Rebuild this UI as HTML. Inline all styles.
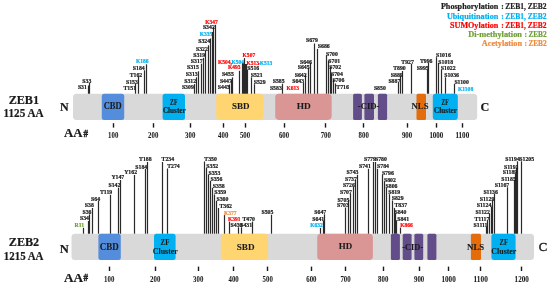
<!DOCTYPE html>
<html><head><meta charset="utf-8"><title>ZEB1 / ZEB2 post-translational modifications</title>
<style>
html,body{margin:0;padding:0;background:#fff;}
body{width:550px;height:285px;overflow:hidden;}
svg{display:block;}
</style></head>
<body>
<svg width="550" height="285" viewBox="0 0 550 285">
<rect width="550" height="285" fill="#ffffff"/>
<rect x="73.00" y="93.70" width="404.20" height="26.20" rx="3.5" fill="#d9d9d9"/>
<rect x="101.80" y="93.70" width="22.40" height="26.20" rx="2.5" fill="#538ddb"/>
<rect x="162.60" y="93.70" width="22.40" height="26.20" rx="2.5" fill="#00b0f0"/>
<rect x="216.20" y="93.70" width="47.20" height="26.20" rx="3.8" fill="#ffd571"/>
<rect x="275.20" y="93.70" width="56.50" height="26.20" rx="3.8" fill="#d99694"/>
<rect x="353.10" y="93.70" width="8.80" height="26.20" rx="1.5" fill="#624d8a"/>
<rect x="364.40" y="93.70" width="9.60" height="26.20" rx="1.5" fill="#624d8a"/>
<rect x="377.90" y="93.70" width="9.20" height="26.20" rx="1.5" fill="#624d8a"/>
<rect x="416.50" y="93.70" width="9.50" height="26.20" rx="1.5" fill="#e46c0a"/>
<rect x="432.80" y="93.70" width="25.00" height="26.20" rx="3" fill="#00b0f0"/>
<text x="103.70" y="108.96" font-size="9.4" fill="#1a1a1a" text-anchor="start" font-family="'Liberation Serif', 'DejaVu Serif', serif" font-weight="bold" textLength="17.90" lengthAdjust="spacingAndGlyphs" stroke="#1a1a1a" stroke-width="0.08">CBD</text>
<text x="170.10" y="104.85" font-size="7.4" fill="#1a1a1a" text-anchor="start" font-family="'Liberation Serif', 'DejaVu Serif', serif" font-weight="bold" textLength="7.30" lengthAdjust="spacingAndGlyphs" stroke="#1a1a1a" stroke-width="0.15">ZF</text>
<text x="162.90" y="113.01" font-size="7.5" fill="#1a1a1a" text-anchor="start" font-family="'Liberation Serif', 'DejaVu Serif', serif" font-weight="bold" textLength="22.80" lengthAdjust="spacingAndGlyphs" stroke="#1a1a1a" stroke-width="0.15">Cluster</text>
<text x="231.90" y="108.89" font-size="9.0" fill="#1a1a1a" text-anchor="start" font-family="'Liberation Serif', 'DejaVu Serif', serif" font-weight="bold" textLength="17.60" lengthAdjust="spacingAndGlyphs" stroke="#1a1a1a" stroke-width="0.08">SBD</text>
<text x="296.70" y="109.06" font-size="8.8" fill="#1a1a1a" text-anchor="start" font-family="'Liberation Serif', 'DejaVu Serif', serif" font-weight="bold" textLength="14.00" lengthAdjust="spacingAndGlyphs" stroke="#1a1a1a" stroke-width="0.08">HD</text>
<text x="357.80" y="109.13" font-size="8.6" fill="#1a1a1a" text-anchor="start" font-family="'Liberation Serif', 'DejaVu Serif', serif" font-weight="bold" textLength="21.70" lengthAdjust="spacingAndGlyphs" stroke="#1a1a1a" stroke-width="0.08">-CID-</text>
<text x="411.60" y="108.93" font-size="8.6" fill="#1a1a1a" text-anchor="start" font-family="'Liberation Serif', 'DejaVu Serif', serif" font-weight="bold" textLength="16.90" lengthAdjust="spacingAndGlyphs" stroke="#1a1a1a" stroke-width="0.08">NLS</text>
<text x="441.60" y="104.71" font-size="7.5" fill="#1a1a1a" text-anchor="start" font-family="'Liberation Serif', 'DejaVu Serif', serif" font-weight="bold" textLength="7.00" lengthAdjust="spacingAndGlyphs" stroke="#1a1a1a" stroke-width="0.15">ZF</text>
<text x="434.10" y="113.01" font-size="7.5" fill="#1a1a1a" text-anchor="start" font-family="'Liberation Serif', 'DejaVu Serif', serif" font-weight="bold" textLength="22.90" lengthAdjust="spacingAndGlyphs" stroke="#1a1a1a" stroke-width="0.15">Cluster</text>
<text x="60.00" y="110.99" font-size="12.2" fill="#1a1a1a" text-anchor="start" font-family="'Liberation Serif', 'DejaVu Serif', serif" font-weight="bold" textLength="8.70" lengthAdjust="spacingAndGlyphs" stroke="#1a1a1a" stroke-width="0.2">N</text>
<text x="480.50" y="111.11" font-size="13.0" fill="#1a1a1a" text-anchor="start" font-family="'Liberation Serif', 'DejaVu Serif', serif" font-weight="bold" textLength="8.80" lengthAdjust="spacingAndGlyphs" stroke="#1a1a1a" stroke-width="0.2">C</text>
<text x="8.70" y="104.22" font-size="13.0" fill="#1a1a1a" text-anchor="start" font-family="'Liberation Serif', 'DejaVu Serif', serif" font-weight="bold" textLength="30.30" lengthAdjust="spacingAndGlyphs" stroke="#1a1a1a" stroke-width="0.2">ZEB1</text>
<text x="3.50" y="116.69" font-size="12.5" fill="#1a1a1a" text-anchor="start" font-family="'Liberation Serif', 'DejaVu Serif', serif" font-weight="bold" textLength="40.10" lengthAdjust="spacingAndGlyphs" stroke="#1a1a1a" stroke-width="0.2">1125 AA</text>
<text x="64.10" y="136.65" font-size="12.6" fill="#1a1a1a" text-anchor="start" font-family="'Liberation Serif', 'DejaVu Serif', serif" font-weight="bold" textLength="18.50" lengthAdjust="spacingAndGlyphs" stroke="#1a1a1a" stroke-width="0.2">AA</text>
<text x="83.50" y="136.61" font-size="11.0" fill="#1a1a1a" text-anchor="start" font-family="'Liberation Serif', 'DejaVu Serif', serif" font-weight="bold" textLength="4.50" lengthAdjust="spacingAndGlyphs" stroke="#1a1a1a" stroke-width="0.5">#</text>
<rect x="112.80" y="123.20" width="1.40" height="4.40" rx="0" fill="#1a1a1a"/>
<text x="113.20" y="138.31" font-size="7.5" fill="#1a1a1a" text-anchor="middle" font-family="'Liberation Serif', 'DejaVu Serif', serif" font-weight="bold" textLength="10.20" lengthAdjust="spacingAndGlyphs" stroke="#1a1a1a" stroke-width="0.05">100</text>
<rect x="152.80" y="123.20" width="1.40" height="4.40" rx="0" fill="#1a1a1a"/>
<text x="153.20" y="138.31" font-size="7.5" fill="#1a1a1a" text-anchor="middle" font-family="'Liberation Serif', 'DejaVu Serif', serif" font-weight="bold" textLength="10.20" lengthAdjust="spacingAndGlyphs" stroke="#1a1a1a" stroke-width="0.05">200</text>
<rect x="189.80" y="123.20" width="1.40" height="4.40" rx="0" fill="#1a1a1a"/>
<text x="190.20" y="138.31" font-size="7.5" fill="#1a1a1a" text-anchor="middle" font-family="'Liberation Serif', 'DejaVu Serif', serif" font-weight="bold" textLength="10.20" lengthAdjust="spacingAndGlyphs" stroke="#1a1a1a" stroke-width="0.05">300</text>
<rect x="222.80" y="123.20" width="1.40" height="4.40" rx="0" fill="#1a1a1a"/>
<text x="223.20" y="138.31" font-size="7.5" fill="#1a1a1a" text-anchor="middle" font-family="'Liberation Serif', 'DejaVu Serif', serif" font-weight="bold" textLength="10.20" lengthAdjust="spacingAndGlyphs" stroke="#1a1a1a" stroke-width="0.05">400</text>
<rect x="244.80" y="123.20" width="1.40" height="4.40" rx="0" fill="#1a1a1a"/>
<text x="245.00" y="138.31" font-size="7.5" fill="#1a1a1a" text-anchor="middle" font-family="'Liberation Serif', 'DejaVu Serif', serif" font-weight="bold" textLength="10.20" lengthAdjust="spacingAndGlyphs" stroke="#1a1a1a" stroke-width="0.05">500</text>
<rect x="283.80" y="123.20" width="1.40" height="4.40" rx="0" fill="#1a1a1a"/>
<text x="284.00" y="138.31" font-size="7.5" fill="#1a1a1a" text-anchor="middle" font-family="'Liberation Serif', 'DejaVu Serif', serif" font-weight="bold" textLength="10.20" lengthAdjust="spacingAndGlyphs" stroke="#1a1a1a" stroke-width="0.05">600</text>
<rect x="324.80" y="123.20" width="1.40" height="4.40" rx="0" fill="#1a1a1a"/>
<text x="325.80" y="138.31" font-size="7.5" fill="#1a1a1a" text-anchor="middle" font-family="'Liberation Serif', 'DejaVu Serif', serif" font-weight="bold" textLength="10.20" lengthAdjust="spacingAndGlyphs" stroke="#1a1a1a" stroke-width="0.05">700</text>
<rect x="362.80" y="123.20" width="1.40" height="4.40" rx="0" fill="#1a1a1a"/>
<text x="363.70" y="138.31" font-size="7.5" fill="#1a1a1a" text-anchor="middle" font-family="'Liberation Serif', 'DejaVu Serif', serif" font-weight="bold" textLength="10.20" lengthAdjust="spacingAndGlyphs" stroke="#1a1a1a" stroke-width="0.05">800</text>
<rect x="406.80" y="123.20" width="1.40" height="4.40" rx="0" fill="#1a1a1a"/>
<text x="407.00" y="138.31" font-size="7.5" fill="#1a1a1a" text-anchor="middle" font-family="'Liberation Serif', 'DejaVu Serif', serif" font-weight="bold" textLength="10.20" lengthAdjust="spacingAndGlyphs" stroke="#1a1a1a" stroke-width="0.05">900</text>
<rect x="435.80" y="123.20" width="1.40" height="4.40" rx="0" fill="#1a1a1a"/>
<text x="436.30" y="138.31" font-size="7.5" fill="#1a1a1a" text-anchor="middle" font-family="'Liberation Serif', 'DejaVu Serif', serif" font-weight="bold" textLength="13.80" lengthAdjust="spacingAndGlyphs" stroke="#1a1a1a" stroke-width="0.05">1000</text>
<rect x="461.80" y="123.20" width="1.40" height="4.40" rx="0" fill="#1a1a1a"/>
<text x="462.30" y="138.31" font-size="7.5" fill="#1a1a1a" text-anchor="middle" font-family="'Liberation Serif', 'DejaVu Serif', serif" font-weight="bold" textLength="13.80" lengthAdjust="spacingAndGlyphs" stroke="#1a1a1a" stroke-width="0.05">1100</text>
<rect x="71.50" y="233.70" width="462.50" height="26.40" rx="3.5" fill="#d9d9d9"/>
<rect x="98.40" y="233.70" width="22.40" height="26.40" rx="2.5" fill="#538ddb"/>
<rect x="154.00" y="233.70" width="21.60" height="26.40" rx="2.5" fill="#00b0f0"/>
<rect x="220.80" y="233.70" width="47.30" height="26.40" rx="3.8" fill="#ffd571"/>
<rect x="317.20" y="233.70" width="55.70" height="26.40" rx="3.8" fill="#d99694"/>
<rect x="390.90" y="233.70" width="9.00" height="26.40" rx="1.5" fill="#624d8a"/>
<rect x="402.70" y="233.70" width="8.90" height="26.40" rx="1.5" fill="#624d8a"/>
<rect x="414.40" y="233.70" width="8.80" height="26.40" rx="1.5" fill="#624d8a"/>
<rect x="427.40" y="233.70" width="9.00" height="26.40" rx="1.5" fill="#624d8a"/>
<rect x="470.90" y="233.70" width="10.10" height="26.40" rx="1.5" fill="#e46c0a"/>
<rect x="491.40" y="233.70" width="24.20" height="26.40" rx="3" fill="#00b0f0"/>
<text x="99.80" y="250.06" font-size="9.4" fill="#1a1a1a" text-anchor="start" font-family="'Liberation Serif', 'DejaVu Serif', serif" font-weight="bold" textLength="18.90" lengthAdjust="spacingAndGlyphs" stroke="#1a1a1a" stroke-width="0.08">CBD</text>
<text x="160.60" y="245.21" font-size="7.8" fill="#1a1a1a" text-anchor="start" font-family="'Liberation Serif', 'DejaVu Serif', serif" font-weight="bold" textLength="8.90" lengthAdjust="spacingAndGlyphs" stroke="#1a1a1a" stroke-width="0.08">ZF</text>
<text x="152.70" y="254.44" font-size="8.3" fill="#1a1a1a" text-anchor="start" font-family="'Liberation Serif', 'DejaVu Serif', serif" font-weight="bold" textLength="25.20" lengthAdjust="spacingAndGlyphs" stroke="#1a1a1a" stroke-width="0.08">Cluster</text>
<text x="236.70" y="249.53" font-size="9.2" fill="#1a1a1a" text-anchor="start" font-family="'Liberation Serif', 'DejaVu Serif', serif" font-weight="bold" textLength="17.80" lengthAdjust="spacingAndGlyphs" stroke="#1a1a1a" stroke-width="0.08">SBD</text>
<text x="338.80" y="249.40" font-size="9.0" fill="#1a1a1a" text-anchor="start" font-family="'Liberation Serif', 'DejaVu Serif', serif" font-weight="bold" textLength="13.40" lengthAdjust="spacingAndGlyphs" stroke="#1a1a1a" stroke-width="0.08">HD</text>
<text x="402.20" y="249.53" font-size="8.6" fill="#1a1a1a" text-anchor="start" font-family="'Liberation Serif', 'DejaVu Serif', serif" font-weight="bold" textLength="21.00" lengthAdjust="spacingAndGlyphs" stroke="#1a1a1a" stroke-width="0.08">-CID-</text>
<text x="467.10" y="249.56" font-size="8.8" fill="#1a1a1a" text-anchor="start" font-family="'Liberation Serif', 'DejaVu Serif', serif" font-weight="bold" textLength="17.20" lengthAdjust="spacingAndGlyphs" stroke="#1a1a1a" stroke-width="0.08">NLS</text>
<text x="499.60" y="245.04" font-size="8.3" fill="#1a1a1a" text-anchor="start" font-family="'Liberation Serif', 'DejaVu Serif', serif" font-weight="bold" textLength="8.40" lengthAdjust="spacingAndGlyphs" stroke="#1a1a1a" stroke-width="0.08">ZF</text>
<text x="491.30" y="254.44" font-size="8.3" fill="#1a1a1a" text-anchor="start" font-family="'Liberation Serif', 'DejaVu Serif', serif" font-weight="bold" textLength="25.10" lengthAdjust="spacingAndGlyphs" stroke="#1a1a1a" stroke-width="0.08">Cluster</text>
<text x="59.70" y="252.59" font-size="12.2" fill="#1a1a1a" text-anchor="start" font-family="'Liberation Serif', 'DejaVu Serif', serif" font-weight="bold" textLength="9.10" lengthAdjust="spacingAndGlyphs" stroke="#1a1a1a" stroke-width="0.2">N</text>
<text x="538.70" y="251.42" font-size="13.0" fill="#1a1a1a" text-anchor="start" font-family="'Liberation Serif', 'DejaVu Serif', serif" font-weight="normal" textLength="8.40" lengthAdjust="spacingAndGlyphs" stroke="#1a1a1a" stroke-width="0.45">C</text>
<text x="8.80" y="246.12" font-size="13.0" fill="#1a1a1a" text-anchor="start" font-family="'Liberation Serif', 'DejaVu Serif', serif" font-weight="bold" textLength="30.40" lengthAdjust="spacingAndGlyphs" stroke="#1a1a1a" stroke-width="0.2">ZEB2</text>
<text x="3.80" y="259.59" font-size="12.5" fill="#1a1a1a" text-anchor="start" font-family="'Liberation Serif', 'DejaVu Serif', serif" font-weight="bold" textLength="39.70" lengthAdjust="spacingAndGlyphs" stroke="#1a1a1a" stroke-width="0.2">1215 AA</text>
<text x="64.00" y="281.55" font-size="12.6" fill="#1a1a1a" text-anchor="start" font-family="'Liberation Serif', 'DejaVu Serif', serif" font-weight="bold" textLength="19.00" lengthAdjust="spacingAndGlyphs" stroke="#1a1a1a" stroke-width="0.2">AA</text>
<text x="83.40" y="281.31" font-size="11.0" fill="#1a1a1a" text-anchor="start" font-family="'Liberation Serif', 'DejaVu Serif', serif" font-weight="bold" textLength="4.50" lengthAdjust="spacingAndGlyphs" stroke="#1a1a1a" stroke-width="0.5">#</text>
<rect x="108.80" y="266.60" width="1.40" height="4.40" rx="0" fill="#1a1a1a"/>
<text x="109.20" y="282.21" font-size="7.5" fill="#1a1a1a" text-anchor="middle" font-family="'Liberation Serif', 'DejaVu Serif', serif" font-weight="bold" textLength="10.20" lengthAdjust="spacingAndGlyphs" stroke="#1a1a1a" stroke-width="0.05">100</text>
<rect x="154.80" y="266.60" width="1.40" height="4.40" rx="0" fill="#1a1a1a"/>
<text x="155.20" y="282.21" font-size="7.5" fill="#1a1a1a" text-anchor="middle" font-family="'Liberation Serif', 'DejaVu Serif', serif" font-weight="bold" textLength="10.20" lengthAdjust="spacingAndGlyphs" stroke="#1a1a1a" stroke-width="0.05">200</text>
<rect x="197.80" y="266.60" width="1.40" height="4.40" rx="0" fill="#1a1a1a"/>
<text x="198.20" y="282.21" font-size="7.5" fill="#1a1a1a" text-anchor="middle" font-family="'Liberation Serif', 'DejaVu Serif', serif" font-weight="bold" textLength="10.20" lengthAdjust="spacingAndGlyphs" stroke="#1a1a1a" stroke-width="0.05">300</text>
<rect x="232.80" y="266.60" width="1.40" height="4.40" rx="0" fill="#1a1a1a"/>
<text x="233.60" y="282.21" font-size="7.5" fill="#1a1a1a" text-anchor="middle" font-family="'Liberation Serif', 'DejaVu Serif', serif" font-weight="bold" textLength="10.20" lengthAdjust="spacingAndGlyphs" stroke="#1a1a1a" stroke-width="0.05">400</text>
<rect x="266.80" y="266.60" width="1.40" height="4.40" rx="0" fill="#1a1a1a"/>
<text x="267.70" y="282.21" font-size="7.5" fill="#1a1a1a" text-anchor="middle" font-family="'Liberation Serif', 'DejaVu Serif', serif" font-weight="bold" textLength="10.20" lengthAdjust="spacingAndGlyphs" stroke="#1a1a1a" stroke-width="0.05">500</text>
<rect x="310.80" y="266.60" width="1.40" height="4.40" rx="0" fill="#1a1a1a"/>
<text x="311.40" y="282.21" font-size="7.5" fill="#1a1a1a" text-anchor="middle" font-family="'Liberation Serif', 'DejaVu Serif', serif" font-weight="bold" textLength="10.20" lengthAdjust="spacingAndGlyphs" stroke="#1a1a1a" stroke-width="0.05">600</text>
<rect x="344.80" y="266.60" width="1.40" height="4.40" rx="0" fill="#1a1a1a"/>
<text x="345.50" y="282.21" font-size="7.5" fill="#1a1a1a" text-anchor="middle" font-family="'Liberation Serif', 'DejaVu Serif', serif" font-weight="bold" textLength="10.20" lengthAdjust="spacingAndGlyphs" stroke="#1a1a1a" stroke-width="0.05">700</text>
<rect x="382.80" y="266.60" width="1.40" height="4.40" rx="0" fill="#1a1a1a"/>
<text x="383.20" y="282.21" font-size="7.5" fill="#1a1a1a" text-anchor="middle" font-family="'Liberation Serif', 'DejaVu Serif', serif" font-weight="bold" textLength="10.20" lengthAdjust="spacingAndGlyphs" stroke="#1a1a1a" stroke-width="0.05">800</text>
<rect x="418.80" y="266.60" width="1.40" height="4.40" rx="0" fill="#1a1a1a"/>
<text x="419.10" y="282.21" font-size="7.5" fill="#1a1a1a" text-anchor="middle" font-family="'Liberation Serif', 'DejaVu Serif', serif" font-weight="bold" textLength="10.20" lengthAdjust="spacingAndGlyphs" stroke="#1a1a1a" stroke-width="0.05">900</text>
<rect x="447.80" y="266.60" width="1.40" height="4.40" rx="0" fill="#1a1a1a"/>
<text x="448.60" y="282.21" font-size="7.5" fill="#1a1a1a" text-anchor="middle" font-family="'Liberation Serif', 'DejaVu Serif', serif" font-weight="bold" textLength="14.20" lengthAdjust="spacingAndGlyphs" stroke="#1a1a1a" stroke-width="0.05">1000</text>
<rect x="479.80" y="266.60" width="1.40" height="4.40" rx="0" fill="#1a1a1a"/>
<text x="480.70" y="282.21" font-size="7.5" fill="#1a1a1a" text-anchor="middle" font-family="'Liberation Serif', 'DejaVu Serif', serif" font-weight="bold" textLength="14.20" lengthAdjust="spacingAndGlyphs" stroke="#1a1a1a" stroke-width="0.05">1100</text>
<rect x="520.80" y="266.60" width="1.40" height="4.40" rx="0" fill="#1a1a1a"/>
<text x="521.70" y="282.21" font-size="7.5" fill="#1a1a1a" text-anchor="middle" font-family="'Liberation Serif', 'DejaVu Serif', serif" font-weight="bold" textLength="14.20" lengthAdjust="spacingAndGlyphs" stroke="#1a1a1a" stroke-width="0.05">1200</text>
<rect x="87.90" y="85.50" width="1.20" height="8.20" rx="0" fill="#2a2a2a"/>
<rect x="88.90" y="83.00" width="1.20" height="10.70" rx="0" fill="#2a2a2a"/>
<rect x="134.90" y="83.70" width="1.20" height="10.00" rx="0" fill="#2a2a2a"/>
<rect x="137.90" y="76.60" width="1.20" height="17.10" rx="0" fill="#2a2a2a"/>
<rect x="143.90" y="70.30" width="1.20" height="23.40" rx="0" fill="#2a2a2a"/>
<rect x="145.90" y="64.30" width="1.20" height="29.40" rx="0" fill="#2a2a2a"/>
<rect x="193.90" y="84.10" width="1.20" height="9.60" rx="0" fill="#2a2a2a"/>
<rect x="195.90" y="77.30" width="1.20" height="16.40" rx="0" fill="#2a2a2a"/>
<rect x="197.90" y="71.30" width="1.20" height="22.40" rx="0" fill="#2a2a2a"/>
<rect x="200.90" y="63.70" width="1.20" height="30.00" rx="0" fill="#2a2a2a"/>
<rect x="202.90" y="57.90" width="1.20" height="35.80" rx="0" fill="#2a2a2a"/>
<rect x="204.90" y="51.00" width="1.20" height="42.70" rx="0" fill="#2a2a2a"/>
<rect x="207.90" y="45.30" width="1.20" height="48.40" rx="0" fill="#2a2a2a"/>
<rect x="209.90" y="38.50" width="1.20" height="55.20" rx="0" fill="#2a2a2a"/>
<rect x="211.90" y="32.00" width="1.20" height="61.70" rx="0" fill="#2a2a2a"/>
<rect x="212.90" y="27.00" width="1.20" height="66.70" rx="0" fill="#2a2a2a"/>
<rect x="214.90" y="24.80" width="1.20" height="68.90" rx="0" fill="#2a2a2a"/>
<rect x="228.90" y="84.60" width="1.20" height="9.10" rx="0" fill="#2a2a2a"/>
<rect x="230.90" y="80.00" width="1.20" height="13.70" rx="0" fill="#2a2a2a"/>
<rect x="231.90" y="77.40" width="1.20" height="16.30" rx="0" fill="#2a2a2a"/>
<rect x="238.90" y="70.80" width="1.20" height="22.90" rx="0" fill="#2a2a2a"/>
<rect x="241.90" y="63.00" width="1.20" height="30.70" rx="0" fill="#2a2a2a"/>
<rect x="242.90" y="63.00" width="1.20" height="30.70" rx="0" fill="#2a2a2a"/>
<rect x="243.90" y="58.10" width="1.20" height="35.60" rx="0" fill="#2a2a2a"/>
<rect x="244.90" y="64.00" width="1.20" height="29.70" rx="0" fill="#2a2a2a"/>
<rect x="245.90" y="64.00" width="1.20" height="29.70" rx="0" fill="#2a2a2a"/>
<rect x="246.90" y="70.00" width="1.20" height="23.70" rx="0" fill="#2a2a2a"/>
<rect x="250.90" y="77.30" width="1.20" height="16.40" rx="0" fill="#2a2a2a"/>
<rect x="253.90" y="84.20" width="1.20" height="9.50" rx="0" fill="#2a2a2a"/>
<rect x="281.90" y="83.70" width="1.20" height="10.00" rx="0" fill="#2a2a2a"/>
<rect x="302.90" y="83.00" width="1.20" height="10.70" rx="0" fill="#2a2a2a"/>
<rect x="304.90" y="74.50" width="1.20" height="19.20" rx="0" fill="#2a2a2a"/>
<rect x="307.90" y="68.00" width="1.20" height="25.70" rx="0" fill="#2a2a2a"/>
<rect x="309.90" y="62.80" width="1.20" height="30.90" rx="0" fill="#2a2a2a"/>
<rect x="313.90" y="43.50" width="1.20" height="50.20" rx="0" fill="#2a2a2a"/>
<rect x="316.90" y="48.90" width="1.20" height="44.80" rx="0" fill="#2a2a2a"/>
<rect x="325.90" y="55.30" width="1.20" height="38.40" rx="0" fill="#2a2a2a"/>
<rect x="327.90" y="60.60" width="1.20" height="33.10" rx="0" fill="#2a2a2a"/>
<rect x="329.90" y="67.00" width="1.20" height="26.70" rx="0" fill="#2a2a2a"/>
<rect x="330.90" y="73.50" width="1.20" height="20.20" rx="0" fill="#2a2a2a"/>
<rect x="332.90" y="80.00" width="1.20" height="13.70" rx="0" fill="#2a2a2a"/>
<rect x="334.90" y="83.50" width="1.20" height="10.20" rx="0" fill="#2a2a2a"/>
<rect x="397.90" y="82.50" width="1.20" height="11.20" rx="0" fill="#2a2a2a"/>
<rect x="399.90" y="75.80" width="1.20" height="17.90" rx="0" fill="#2a2a2a"/>
<rect x="401.90" y="71.00" width="1.20" height="22.70" rx="0" fill="#2a2a2a"/>
<rect x="410.90" y="64.00" width="1.20" height="29.70" rx="0" fill="#2a2a2a"/>
<rect x="426.90" y="69.70" width="1.20" height="24.00" rx="0" fill="#2a2a2a"/>
<rect x="427.90" y="62.90" width="1.20" height="30.80" rx="0" fill="#2a2a2a"/>
<rect x="435.90" y="57.20" width="1.20" height="36.50" rx="0" fill="#2a2a2a"/>
<rect x="437.90" y="63.00" width="1.20" height="30.70" rx="0" fill="#2a2a2a"/>
<rect x="440.90" y="70.00" width="1.20" height="23.70" rx="0" fill="#2a2a2a"/>
<rect x="444.90" y="77.30" width="1.20" height="16.40" rx="0" fill="#2a2a2a"/>
<rect x="453.90" y="84.00" width="1.20" height="9.70" rx="0" fill="#2a2a2a"/>
<rect x="82.90" y="227.80" width="1.20" height="5.90" rx="0" fill="#2a2a2a"/>
<rect x="87.90" y="221.00" width="1.20" height="12.70" rx="0" fill="#2a2a2a"/>
<rect x="88.90" y="214.40" width="1.20" height="19.30" rx="0" fill="#2a2a2a"/>
<rect x="91.90" y="208.00" width="1.20" height="25.70" rx="0" fill="#2a2a2a"/>
<rect x="97.90" y="200.50" width="1.20" height="33.20" rx="0" fill="#2a2a2a"/>
<rect x="109.90" y="194.80" width="1.20" height="38.90" rx="0" fill="#2a2a2a"/>
<rect x="117.90" y="187.70" width="1.20" height="46.00" rx="0" fill="#2a2a2a"/>
<rect x="119.90" y="180.00" width="1.20" height="53.70" rx="0" fill="#2a2a2a"/>
<rect x="133.90" y="175.00" width="1.20" height="58.70" rx="0" fill="#2a2a2a"/>
<rect x="144.90" y="169.00" width="1.20" height="64.70" rx="0" fill="#2a2a2a"/>
<rect x="146.90" y="162.00" width="1.20" height="71.70" rx="0" fill="#2a2a2a"/>
<rect x="161.90" y="162.00" width="1.20" height="71.70" rx="0" fill="#2a2a2a"/>
<rect x="166.90" y="168.50" width="1.20" height="65.20" rx="0" fill="#2a2a2a"/>
<rect x="203.90" y="161.50" width="1.20" height="72.20" rx="0" fill="#2a2a2a"/>
<rect x="205.90" y="168.00" width="1.20" height="65.70" rx="0" fill="#2a2a2a"/>
<rect x="207.90" y="174.50" width="1.20" height="59.20" rx="0" fill="#2a2a2a"/>
<rect x="209.90" y="181.00" width="1.20" height="52.70" rx="0" fill="#2a2a2a"/>
<rect x="211.90" y="187.80" width="1.20" height="45.90" rx="0" fill="#2a2a2a"/>
<rect x="213.90" y="194.50" width="1.20" height="39.20" rx="0" fill="#2a2a2a"/>
<rect x="215.90" y="201.00" width="1.20" height="32.70" rx="0" fill="#2a2a2a"/>
<rect x="217.90" y="208.00" width="1.20" height="25.70" rx="0" fill="#2a2a2a"/>
<rect x="223.90" y="215.10" width="1.20" height="18.60" rx="0" fill="#2a2a2a"/>
<rect x="228.90" y="221.60" width="1.20" height="12.10" rx="0" fill="#2a2a2a"/>
<rect x="251.90" y="221.60" width="1.20" height="12.10" rx="0" fill="#2a2a2a"/>
<rect x="237.90" y="227.30" width="1.20" height="6.40" rx="0" fill="#2a2a2a"/>
<rect x="240.90" y="227.30" width="1.20" height="6.40" rx="0" fill="#2a2a2a"/>
<rect x="270.90" y="214.70" width="1.20" height="19.00" rx="0" fill="#2a2a2a"/>
<rect x="323.90" y="214.30" width="1.20" height="19.40" rx="0" fill="#2a2a2a"/>
<rect x="322.90" y="220.70" width="1.20" height="13.00" rx="0" fill="#2a2a2a"/>
<rect x="319.90" y="228.00" width="1.20" height="5.70" rx="0" fill="#2a2a2a"/>
<rect x="344.90" y="207.50" width="1.20" height="26.20" rx="0" fill="#2a2a2a"/>
<rect x="347.90" y="200.00" width="1.20" height="33.70" rx="0" fill="#2a2a2a"/>
<rect x="349.90" y="193.50" width="1.20" height="40.20" rx="0" fill="#2a2a2a"/>
<rect x="352.90" y="186.50" width="1.20" height="47.20" rx="0" fill="#2a2a2a"/>
<rect x="354.90" y="180.00" width="1.20" height="53.70" rx="0" fill="#2a2a2a"/>
<rect x="356.90" y="174.80" width="1.20" height="58.90" rx="0" fill="#2a2a2a"/>
<rect x="367.90" y="168.80" width="1.20" height="64.90" rx="0" fill="#2a2a2a"/>
<rect x="372.90" y="162.00" width="1.20" height="71.70" rx="0" fill="#2a2a2a"/>
<rect x="374.90" y="162.00" width="1.20" height="71.70" rx="0" fill="#2a2a2a"/>
<rect x="376.90" y="168.80" width="1.20" height="64.90" rx="0" fill="#2a2a2a"/>
<rect x="381.90" y="174.70" width="1.20" height="59.00" rx="0" fill="#2a2a2a"/>
<rect x="383.90" y="181.60" width="1.20" height="52.10" rx="0" fill="#2a2a2a"/>
<rect x="385.90" y="187.90" width="1.20" height="45.80" rx="0" fill="#2a2a2a"/>
<rect x="388.90" y="194.20" width="1.20" height="39.50" rx="0" fill="#2a2a2a"/>
<rect x="391.90" y="200.50" width="1.20" height="33.20" rx="0" fill="#2a2a2a"/>
<rect x="393.90" y="207.90" width="1.20" height="25.80" rx="0" fill="#2a2a2a"/>
<rect x="394.90" y="213.40" width="1.20" height="20.30" rx="0" fill="#2a2a2a"/>
<rect x="395.90" y="220.20" width="1.20" height="13.50" rx="0" fill="#2a2a2a"/>
<rect x="399.90" y="227.60" width="1.20" height="6.10" rx="0" fill="#2a2a2a"/>
<rect x="485.90" y="226.50" width="1.20" height="7.20" rx="0" fill="#2a2a2a"/>
<rect x="486.90" y="220.50" width="1.20" height="13.20" rx="0" fill="#2a2a2a"/>
<rect x="488.90" y="213.60" width="1.20" height="20.10" rx="0" fill="#2a2a2a"/>
<rect x="490.90" y="206.40" width="1.20" height="27.30" rx="0" fill="#2a2a2a"/>
<rect x="491.90" y="200.20" width="1.20" height="33.50" rx="0" fill="#2a2a2a"/>
<rect x="493.90" y="193.90" width="1.20" height="39.80" rx="0" fill="#2a2a2a"/>
<rect x="506.90" y="187.30" width="1.20" height="46.40" rx="0" fill="#2a2a2a"/>
<rect x="513.90" y="180.00" width="1.20" height="53.70" rx="0" fill="#2a2a2a"/>
<rect x="514.90" y="173.50" width="1.20" height="60.20" rx="0" fill="#2a2a2a"/>
<rect x="515.90" y="167.80" width="1.20" height="65.90" rx="0" fill="#2a2a2a"/>
<rect x="516.90" y="161.30" width="1.20" height="72.40" rx="0" fill="#2a2a2a"/>
<rect x="520.90" y="161.30" width="1.20" height="72.40" rx="0" fill="#2a2a2a"/>
<text x="77.90" y="89.00" font-size="5.8" fill="#1a1a1a" text-anchor="start" font-family="'Liberation Serif', 'DejaVu Serif', serif" font-weight="bold" stroke="#1a1a1a" stroke-width="0.2">S31</text>
<text x="82.30" y="82.60" font-size="5.8" fill="#1a1a1a" text-anchor="start" font-family="'Liberation Serif', 'DejaVu Serif', serif" font-weight="bold" stroke="#1a1a1a" stroke-width="0.2">S33</text>
<text x="123.50" y="89.80" font-size="5.8" fill="#1a1a1a" text-anchor="start" font-family="'Liberation Serif', 'DejaVu Serif', serif" font-weight="bold" stroke="#1a1a1a" stroke-width="0.2">T151</text>
<text x="126.00" y="83.60" font-size="5.8" fill="#1a1a1a" text-anchor="start" font-family="'Liberation Serif', 'DejaVu Serif', serif" font-weight="bold" stroke="#1a1a1a" stroke-width="0.2">S153</text>
<text x="129.70" y="76.70" font-size="5.8" fill="#1a1a1a" text-anchor="start" font-family="'Liberation Serif', 'DejaVu Serif', serif" font-weight="bold" stroke="#1a1a1a" stroke-width="0.2">T162</text>
<text x="132.80" y="69.80" font-size="5.8" fill="#1a1a1a" text-anchor="start" font-family="'Liberation Serif', 'DejaVu Serif', serif" font-weight="bold" stroke="#1a1a1a" stroke-width="0.2">S184</text>
<text x="136.00" y="62.80" font-size="5.8" fill="#00b0f0" text-anchor="start" font-family="'Liberation Serif', 'DejaVu Serif', serif" font-weight="bold" textLength="12.55" lengthAdjust="spacingAndGlyphs" stroke="#00b0f0" stroke-width="0.2">K186</text>
<text x="181.90" y="89.00" font-size="5.8" fill="#1a1a1a" text-anchor="start" font-family="'Liberation Serif', 'DejaVu Serif', serif" font-weight="bold" stroke="#1a1a1a" stroke-width="0.2">S309</text>
<text x="184.20" y="82.60" font-size="5.8" fill="#1a1a1a" text-anchor="start" font-family="'Liberation Serif', 'DejaVu Serif', serif" font-weight="bold" stroke="#1a1a1a" stroke-width="0.2">S312</text>
<text x="185.80" y="75.50" font-size="5.8" fill="#1a1a1a" text-anchor="start" font-family="'Liberation Serif', 'DejaVu Serif', serif" font-weight="bold" stroke="#1a1a1a" stroke-width="0.2">S313</text>
<text x="187.00" y="69.30" font-size="5.8" fill="#1a1a1a" text-anchor="start" font-family="'Liberation Serif', 'DejaVu Serif', serif" font-weight="bold" stroke="#1a1a1a" stroke-width="0.2">S315</text>
<text x="190.80" y="62.80" font-size="5.8" fill="#1a1a1a" text-anchor="start" font-family="'Liberation Serif', 'DejaVu Serif', serif" font-weight="bold" stroke="#1a1a1a" stroke-width="0.2">S317</text>
<text x="193.20" y="57.00" font-size="5.8" fill="#1a1a1a" text-anchor="start" font-family="'Liberation Serif', 'DejaVu Serif', serif" font-weight="bold" stroke="#1a1a1a" stroke-width="0.2">S319</text>
<text x="196.00" y="50.60" font-size="5.8" fill="#1a1a1a" text-anchor="start" font-family="'Liberation Serif', 'DejaVu Serif', serif" font-weight="bold" stroke="#1a1a1a" stroke-width="0.2">S322</text>
<text x="198.20" y="43.40" font-size="5.8" fill="#1a1a1a" text-anchor="start" font-family="'Liberation Serif', 'DejaVu Serif', serif" font-weight="bold" stroke="#1a1a1a" stroke-width="0.2">S324</text>
<text x="199.70" y="36.30" font-size="5.8" fill="#00b0f0" text-anchor="start" font-family="'Liberation Serif', 'DejaVu Serif', serif" font-weight="bold" textLength="12.55" lengthAdjust="spacingAndGlyphs" stroke="#00b0f0" stroke-width="0.2">K335</text>
<text x="202.90" y="29.00" font-size="5.8" fill="#1a1a1a" text-anchor="start" font-family="'Liberation Serif', 'DejaVu Serif', serif" font-weight="bold" stroke="#1a1a1a" stroke-width="0.2">S342</text>
<text x="205.20" y="24.40" font-size="5.8" fill="#ff0000" text-anchor="start" font-family="'Liberation Serif', 'DejaVu Serif', serif" font-weight="bold" textLength="12.55" lengthAdjust="spacingAndGlyphs" stroke="#ff0000" stroke-width="0.2">K347</text>
<text x="217.80" y="88.90" font-size="5.8" fill="#1a1a1a" text-anchor="start" font-family="'Liberation Serif', 'DejaVu Serif', serif" font-weight="bold" stroke="#1a1a1a" stroke-width="0.2">S443</text>
<text x="219.90" y="83.40" font-size="5.8" fill="#1a1a1a" text-anchor="start" font-family="'Liberation Serif', 'DejaVu Serif', serif" font-weight="bold" stroke="#1a1a1a" stroke-width="0.2">S447</text>
<text x="221.90" y="75.90" font-size="5.8" fill="#1a1a1a" text-anchor="start" font-family="'Liberation Serif', 'DejaVu Serif', serif" font-weight="bold" stroke="#1a1a1a" stroke-width="0.2">S455</text>
<text x="228.00" y="69.30" font-size="5.8" fill="#ff0000" text-anchor="start" font-family="'Liberation Serif', 'DejaVu Serif', serif" font-weight="bold" textLength="12.55" lengthAdjust="spacingAndGlyphs" stroke="#ff0000" stroke-width="0.2">K493</text>
<text x="218.00" y="64.10" font-size="5.8" fill="#ff0000" text-anchor="start" font-family="'Liberation Serif', 'DejaVu Serif', serif" font-weight="bold" textLength="12.55" lengthAdjust="spacingAndGlyphs" stroke="#ff0000" stroke-width="0.2">K504</text>
<text x="231.50" y="64.10" font-size="5.8" fill="#00b0f0" text-anchor="start" font-family="'Liberation Serif', 'DejaVu Serif', serif" font-weight="bold" textLength="12.55" lengthAdjust="spacingAndGlyphs" stroke="#00b0f0" stroke-width="0.2">K504</text>
<text x="242.60" y="57.30" font-size="5.8" fill="#ff0000" text-anchor="start" font-family="'Liberation Serif', 'DejaVu Serif', serif" font-weight="bold" textLength="12.55" lengthAdjust="spacingAndGlyphs" stroke="#ff0000" stroke-width="0.2">K507</text>
<text x="246.40" y="64.80" font-size="5.8" fill="#ff0000" text-anchor="start" font-family="'Liberation Serif', 'DejaVu Serif', serif" font-weight="bold" textLength="12.55" lengthAdjust="spacingAndGlyphs" stroke="#ff0000" stroke-width="0.2">K513</text>
<text x="259.70" y="64.80" font-size="5.8" fill="#00b0f0" text-anchor="start" font-family="'Liberation Serif', 'DejaVu Serif', serif" font-weight="bold" textLength="12.55" lengthAdjust="spacingAndGlyphs" stroke="#00b0f0" stroke-width="0.2">K513</text>
<text x="247.30" y="70.30" font-size="5.8" fill="#1a1a1a" text-anchor="start" font-family="'Liberation Serif', 'DejaVu Serif', serif" font-weight="bold" stroke="#1a1a1a" stroke-width="0.2">S516</text>
<text x="250.70" y="76.80" font-size="5.8" fill="#1a1a1a" text-anchor="start" font-family="'Liberation Serif', 'DejaVu Serif', serif" font-weight="bold" stroke="#1a1a1a" stroke-width="0.2">S521</text>
<text x="253.70" y="83.50" font-size="5.8" fill="#1a1a1a" text-anchor="start" font-family="'Liberation Serif', 'DejaVu Serif', serif" font-weight="bold" stroke="#1a1a1a" stroke-width="0.2">S529</text>
<text x="269.90" y="89.80" font-size="5.8" fill="#1a1a1a" text-anchor="start" font-family="'Liberation Serif', 'DejaVu Serif', serif" font-weight="bold" stroke="#1a1a1a" stroke-width="0.2">S583</text>
<text x="272.70" y="82.90" font-size="5.8" fill="#1a1a1a" text-anchor="start" font-family="'Liberation Serif', 'DejaVu Serif', serif" font-weight="bold" stroke="#1a1a1a" stroke-width="0.2">S585</text>
<text x="286.40" y="89.80" font-size="5.8" fill="#ff0000" text-anchor="start" font-family="'Liberation Serif', 'DejaVu Serif', serif" font-weight="bold" textLength="12.55" lengthAdjust="spacingAndGlyphs" stroke="#ff0000" stroke-width="0.2">K613</text>
<text x="292.20" y="82.80" font-size="5.8" fill="#1a1a1a" text-anchor="start" font-family="'Liberation Serif', 'DejaVu Serif', serif" font-weight="bold" stroke="#1a1a1a" stroke-width="0.2">S643</text>
<text x="294.70" y="76.80" font-size="5.8" fill="#1a1a1a" text-anchor="start" font-family="'Liberation Serif', 'DejaVu Serif', serif" font-weight="bold" stroke="#1a1a1a" stroke-width="0.2">S642</text>
<text x="297.70" y="69.40" font-size="5.8" fill="#1a1a1a" text-anchor="start" font-family="'Liberation Serif', 'DejaVu Serif', serif" font-weight="bold" stroke="#1a1a1a" stroke-width="0.2">S645</text>
<text x="300.00" y="63.60" font-size="5.8" fill="#1a1a1a" text-anchor="start" font-family="'Liberation Serif', 'DejaVu Serif', serif" font-weight="bold" stroke="#1a1a1a" stroke-width="0.2">S646</text>
<text x="306.00" y="42.00" font-size="5.8" fill="#1a1a1a" text-anchor="start" font-family="'Liberation Serif', 'DejaVu Serif', serif" font-weight="bold" stroke="#1a1a1a" stroke-width="0.2">S679</text>
<text x="317.80" y="47.80" font-size="5.8" fill="#1a1a1a" text-anchor="start" font-family="'Liberation Serif', 'DejaVu Serif', serif" font-weight="bold" stroke="#1a1a1a" stroke-width="0.2">S686</text>
<text x="326.00" y="55.60" font-size="5.8" fill="#1a1a1a" text-anchor="start" font-family="'Liberation Serif', 'DejaVu Serif', serif" font-weight="bold" stroke="#1a1a1a" stroke-width="0.2">S700</text>
<text x="328.30" y="62.80" font-size="5.8" fill="#1a1a1a" text-anchor="start" font-family="'Liberation Serif', 'DejaVu Serif', serif" font-weight="bold" stroke="#1a1a1a" stroke-width="0.2">S701</text>
<text x="329.20" y="69.40" font-size="5.8" fill="#1a1a1a" text-anchor="start" font-family="'Liberation Serif', 'DejaVu Serif', serif" font-weight="bold" stroke="#1a1a1a" stroke-width="0.2">S702</text>
<text x="331.00" y="75.70" font-size="5.8" fill="#1a1a1a" text-anchor="start" font-family="'Liberation Serif', 'DejaVu Serif', serif" font-weight="bold" stroke="#1a1a1a" stroke-width="0.2">S704</text>
<text x="332.40" y="82.00" font-size="5.8" fill="#1a1a1a" text-anchor="start" font-family="'Liberation Serif', 'DejaVu Serif', serif" font-weight="bold" stroke="#1a1a1a" stroke-width="0.2">S706</text>
<text x="336.30" y="89.10" font-size="5.8" fill="#1a1a1a" text-anchor="start" font-family="'Liberation Serif', 'DejaVu Serif', serif" font-weight="bold" stroke="#1a1a1a" stroke-width="0.2">T716</text>
<text x="373.90" y="90.10" font-size="5.8" fill="#1a1a1a" text-anchor="start" font-family="'Liberation Serif', 'DejaVu Serif', serif" font-weight="bold" stroke="#1a1a1a" stroke-width="0.2">S850</text>
<text x="388.40" y="83.20" font-size="5.8" fill="#1a1a1a" text-anchor="start" font-family="'Liberation Serif', 'DejaVu Serif', serif" font-weight="bold" stroke="#1a1a1a" stroke-width="0.2">S887</text>
<text x="390.80" y="76.70" font-size="5.8" fill="#1a1a1a" text-anchor="start" font-family="'Liberation Serif', 'DejaVu Serif', serif" font-weight="bold" stroke="#1a1a1a" stroke-width="0.2">S889</text>
<text x="393.20" y="69.90" font-size="5.8" fill="#1a1a1a" text-anchor="start" font-family="'Liberation Serif', 'DejaVu Serif', serif" font-weight="bold" stroke="#1a1a1a" stroke-width="0.2">T890</text>
<text x="401.30" y="63.50" font-size="5.8" fill="#1a1a1a" text-anchor="start" font-family="'Liberation Serif', 'DejaVu Serif', serif" font-weight="bold" stroke="#1a1a1a" stroke-width="0.2">T927</text>
<text x="416.80" y="69.90" font-size="5.8" fill="#1a1a1a" text-anchor="start" font-family="'Liberation Serif', 'DejaVu Serif', serif" font-weight="bold" stroke="#1a1a1a" stroke-width="0.2">S995</text>
<text x="419.90" y="62.80" font-size="5.8" fill="#1a1a1a" text-anchor="start" font-family="'Liberation Serif', 'DejaVu Serif', serif" font-weight="bold" stroke="#1a1a1a" stroke-width="0.2">T996</text>
<text x="436.00" y="56.90" font-size="5.8" fill="#1a1a1a" text-anchor="start" font-family="'Liberation Serif', 'DejaVu Serif', serif" font-weight="bold" stroke="#1a1a1a" stroke-width="0.2">S1016</text>
<text x="438.30" y="63.50" font-size="5.8" fill="#1a1a1a" text-anchor="start" font-family="'Liberation Serif', 'DejaVu Serif', serif" font-weight="bold" stroke="#1a1a1a" stroke-width="0.2">S1018</text>
<text x="440.80" y="69.90" font-size="5.8" fill="#1a1a1a" text-anchor="start" font-family="'Liberation Serif', 'DejaVu Serif', serif" font-weight="bold" stroke="#1a1a1a" stroke-width="0.2">S1022</text>
<text x="444.20" y="76.60" font-size="5.8" fill="#1a1a1a" text-anchor="start" font-family="'Liberation Serif', 'DejaVu Serif', serif" font-weight="bold" stroke="#1a1a1a" stroke-width="0.2">S1036</text>
<text x="454.40" y="83.70" font-size="5.8" fill="#1a1a1a" text-anchor="start" font-family="'Liberation Serif', 'DejaVu Serif', serif" font-weight="bold" stroke="#1a1a1a" stroke-width="0.2">S1100</text>
<text x="457.90" y="90.70" font-size="5.8" fill="#00b0f0" text-anchor="start" font-family="'Liberation Serif', 'DejaVu Serif', serif" font-weight="bold" textLength="15.31" lengthAdjust="spacingAndGlyphs" stroke="#00b0f0" stroke-width="0.2">K1108</text>
<text x="74.50" y="226.50" font-size="5.8" fill="#6fa036" text-anchor="start" font-family="'Liberation Serif', 'DejaVu Serif', serif" font-weight="bold" stroke="#6fa036" stroke-width="0.2">R11</text>
<text x="80.00" y="220.10" font-size="5.8" fill="#1a1a1a" text-anchor="start" font-family="'Liberation Serif', 'DejaVu Serif', serif" font-weight="bold" stroke="#1a1a1a" stroke-width="0.2">S34</text>
<text x="82.50" y="213.90" font-size="5.8" fill="#1a1a1a" text-anchor="start" font-family="'Liberation Serif', 'DejaVu Serif', serif" font-weight="bold" stroke="#1a1a1a" stroke-width="0.2">S36</text>
<text x="84.80" y="207.40" font-size="5.8" fill="#1a1a1a" text-anchor="start" font-family="'Liberation Serif', 'DejaVu Serif', serif" font-weight="bold" stroke="#1a1a1a" stroke-width="0.2">S38</text>
<text x="91.10" y="200.50" font-size="5.8" fill="#1a1a1a" text-anchor="start" font-family="'Liberation Serif', 'DejaVu Serif', serif" font-weight="bold" stroke="#1a1a1a" stroke-width="0.2">S64</text>
<text x="100.00" y="193.50" font-size="5.8" fill="#1a1a1a" text-anchor="start" font-family="'Liberation Serif', 'DejaVu Serif', serif" font-weight="bold" stroke="#1a1a1a" stroke-width="0.2">T119</text>
<text x="108.50" y="186.70" font-size="5.8" fill="#1a1a1a" text-anchor="start" font-family="'Liberation Serif', 'DejaVu Serif', serif" font-weight="bold" stroke="#1a1a1a" stroke-width="0.2">S142</text>
<text x="111.40" y="179.30" font-size="5.8" fill="#1a1a1a" text-anchor="start" font-family="'Liberation Serif', 'DejaVu Serif', serif" font-weight="bold" stroke="#1a1a1a" stroke-width="0.2">Y147</text>
<text x="124.20" y="174.40" font-size="5.8" fill="#1a1a1a" text-anchor="start" font-family="'Liberation Serif', 'DejaVu Serif', serif" font-weight="bold" stroke="#1a1a1a" stroke-width="0.2">Y162</text>
<text x="135.30" y="168.50" font-size="5.8" fill="#1a1a1a" text-anchor="start" font-family="'Liberation Serif', 'DejaVu Serif', serif" font-weight="bold" stroke="#1a1a1a" stroke-width="0.2">S184</text>
<text x="139.10" y="161.40" font-size="5.8" fill="#1a1a1a" text-anchor="start" font-family="'Liberation Serif', 'DejaVu Serif', serif" font-weight="bold" stroke="#1a1a1a" stroke-width="0.2">T188</text>
<text x="161.60" y="161.30" font-size="5.8" fill="#1a1a1a" text-anchor="start" font-family="'Liberation Serif', 'DejaVu Serif', serif" font-weight="bold" stroke="#1a1a1a" stroke-width="0.2">T234</text>
<text x="167.20" y="167.80" font-size="5.8" fill="#1a1a1a" text-anchor="start" font-family="'Liberation Serif', 'DejaVu Serif', serif" font-weight="bold" stroke="#1a1a1a" stroke-width="0.2">T274</text>
<text x="204.30" y="161.10" font-size="5.8" fill="#1a1a1a" text-anchor="start" font-family="'Liberation Serif', 'DejaVu Serif', serif" font-weight="bold" stroke="#1a1a1a" stroke-width="0.2">T350</text>
<text x="206.30" y="168.20" font-size="5.8" fill="#1a1a1a" text-anchor="start" font-family="'Liberation Serif', 'DejaVu Serif', serif" font-weight="bold" stroke="#1a1a1a" stroke-width="0.2">S352</text>
<text x="208.50" y="174.50" font-size="5.8" fill="#1a1a1a" text-anchor="start" font-family="'Liberation Serif', 'DejaVu Serif', serif" font-weight="bold" stroke="#1a1a1a" stroke-width="0.2">S353</text>
<text x="210.50" y="181.00" font-size="5.8" fill="#1a1a1a" text-anchor="start" font-family="'Liberation Serif', 'DejaVu Serif', serif" font-weight="bold" stroke="#1a1a1a" stroke-width="0.2">S356</text>
<text x="212.80" y="187.80" font-size="5.8" fill="#1a1a1a" text-anchor="start" font-family="'Liberation Serif', 'DejaVu Serif', serif" font-weight="bold" stroke="#1a1a1a" stroke-width="0.2">S358</text>
<text x="214.20" y="194.40" font-size="5.8" fill="#1a1a1a" text-anchor="start" font-family="'Liberation Serif', 'DejaVu Serif', serif" font-weight="bold" stroke="#1a1a1a" stroke-width="0.2">S359</text>
<text x="216.50" y="201.00" font-size="5.8" fill="#1a1a1a" text-anchor="start" font-family="'Liberation Serif', 'DejaVu Serif', serif" font-weight="bold" stroke="#1a1a1a" stroke-width="0.2">S360</text>
<text x="219.40" y="207.70" font-size="5.8" fill="#1a1a1a" text-anchor="start" font-family="'Liberation Serif', 'DejaVu Serif', serif" font-weight="bold" stroke="#1a1a1a" stroke-width="0.2">T362</text>
<text x="224.00" y="214.90" font-size="5.8" fill="#ee8a3c" text-anchor="start" font-family="'Liberation Serif', 'DejaVu Serif', serif" font-weight="bold" textLength="12.55" lengthAdjust="spacingAndGlyphs" stroke="#ee8a3c" stroke-width="0.2">K377</text>
<text x="228.00" y="220.80" font-size="5.8" fill="#ff0000" text-anchor="start" font-family="'Liberation Serif', 'DejaVu Serif', serif" font-weight="bold" textLength="12.55" lengthAdjust="spacingAndGlyphs" stroke="#ff0000" stroke-width="0.2">K391</text>
<text x="242.40" y="220.80" font-size="5.8" fill="#1a1a1a" text-anchor="start" font-family="'Liberation Serif', 'DejaVu Serif', serif" font-weight="bold" stroke="#1a1a1a" stroke-width="0.2">T470</text>
<text x="230.60" y="226.80" font-size="5.8" fill="#1a1a1a" text-anchor="start" font-family="'Liberation Serif', 'DejaVu Serif', serif" font-weight="bold" stroke="#1a1a1a" stroke-width="0.2">S430</text>
<text x="240.20" y="226.80" font-size="5.8" fill="#1a1a1a" text-anchor="start" font-family="'Liberation Serif', 'DejaVu Serif', serif" font-weight="bold" stroke="#1a1a1a" stroke-width="0.2">S431</text>
<text x="261.50" y="214.00" font-size="5.8" fill="#1a1a1a" text-anchor="start" font-family="'Liberation Serif', 'DejaVu Serif', serif" font-weight="bold" stroke="#1a1a1a" stroke-width="0.2">S505</text>
<text x="314.30" y="214.00" font-size="5.8" fill="#1a1a1a" text-anchor="start" font-family="'Liberation Serif', 'DejaVu Serif', serif" font-weight="bold" stroke="#1a1a1a" stroke-width="0.2">S647</text>
<text x="312.30" y="220.80" font-size="5.8" fill="#1a1a1a" text-anchor="start" font-family="'Liberation Serif', 'DejaVu Serif', serif" font-weight="bold" stroke="#1a1a1a" stroke-width="0.2">S641</text>
<text x="310.20" y="227.00" font-size="5.8" fill="#00b0f0" text-anchor="start" font-family="'Liberation Serif', 'DejaVu Serif', serif" font-weight="bold" textLength="12.55" lengthAdjust="spacingAndGlyphs" stroke="#00b0f0" stroke-width="0.2">K632</text>
<text x="337.00" y="207.40" font-size="5.8" fill="#1a1a1a" text-anchor="start" font-family="'Liberation Serif', 'DejaVu Serif', serif" font-weight="bold" stroke="#1a1a1a" stroke-width="0.2">S703</text>
<text x="337.40" y="201.70" font-size="5.8" fill="#1a1a1a" text-anchor="start" font-family="'Liberation Serif', 'DejaVu Serif', serif" font-weight="bold" stroke="#1a1a1a" stroke-width="0.2">S705</text>
<text x="340.00" y="193.90" font-size="5.8" fill="#1a1a1a" text-anchor="start" font-family="'Liberation Serif', 'DejaVu Serif', serif" font-weight="bold" stroke="#1a1a1a" stroke-width="0.2">S707</text>
<text x="342.90" y="187.40" font-size="5.8" fill="#1a1a1a" text-anchor="start" font-family="'Liberation Serif', 'DejaVu Serif', serif" font-weight="bold" stroke="#1a1a1a" stroke-width="0.2">S726</text>
<text x="345.00" y="181.30" font-size="5.8" fill="#1a1a1a" text-anchor="start" font-family="'Liberation Serif', 'DejaVu Serif', serif" font-weight="bold" stroke="#1a1a1a" stroke-width="0.2">S737</text>
<text x="346.60" y="174.40" font-size="5.8" fill="#1a1a1a" text-anchor="start" font-family="'Liberation Serif', 'DejaVu Serif', serif" font-weight="bold" stroke="#1a1a1a" stroke-width="0.2">S743</text>
<text x="359.00" y="168.40" font-size="5.8" fill="#1a1a1a" text-anchor="start" font-family="'Liberation Serif', 'DejaVu Serif', serif" font-weight="bold" stroke="#1a1a1a" stroke-width="0.2">S741</text>
<text x="364.00" y="161.10" font-size="5.8" fill="#1a1a1a" text-anchor="start" font-family="'Liberation Serif', 'DejaVu Serif', serif" font-weight="bold" stroke="#1a1a1a" stroke-width="0.2">S779</text>
<text x="375.00" y="161.10" font-size="5.8" fill="#1a1a1a" text-anchor="start" font-family="'Liberation Serif', 'DejaVu Serif', serif" font-weight="bold" stroke="#1a1a1a" stroke-width="0.2">S780</text>
<text x="377.10" y="168.40" font-size="5.8" fill="#1a1a1a" text-anchor="start" font-family="'Liberation Serif', 'DejaVu Serif', serif" font-weight="bold" stroke="#1a1a1a" stroke-width="0.2">S784</text>
<text x="381.90" y="175.40" font-size="5.8" fill="#1a1a1a" text-anchor="start" font-family="'Liberation Serif', 'DejaVu Serif', serif" font-weight="bold" stroke="#1a1a1a" stroke-width="0.2">S796</text>
<text x="384.00" y="181.70" font-size="5.8" fill="#1a1a1a" text-anchor="start" font-family="'Liberation Serif', 'DejaVu Serif', serif" font-weight="bold" stroke="#1a1a1a" stroke-width="0.2">S802</text>
<text x="385.60" y="188.00" font-size="5.8" fill="#1a1a1a" text-anchor="start" font-family="'Liberation Serif', 'DejaVu Serif', serif" font-weight="bold" stroke="#1a1a1a" stroke-width="0.2">S806</text>
<text x="388.20" y="194.30" font-size="5.8" fill="#1a1a1a" text-anchor="start" font-family="'Liberation Serif', 'DejaVu Serif', serif" font-weight="bold" stroke="#1a1a1a" stroke-width="0.2">S819</text>
<text x="391.70" y="200.30" font-size="5.8" fill="#1a1a1a" text-anchor="start" font-family="'Liberation Serif', 'DejaVu Serif', serif" font-weight="bold" stroke="#1a1a1a" stroke-width="0.2">S829</text>
<text x="394.50" y="207.40" font-size="5.8" fill="#1a1a1a" text-anchor="start" font-family="'Liberation Serif', 'DejaVu Serif', serif" font-weight="bold" stroke="#1a1a1a" stroke-width="0.2">T837</text>
<text x="394.50" y="213.50" font-size="5.8" fill="#1a1a1a" text-anchor="start" font-family="'Liberation Serif', 'DejaVu Serif', serif" font-weight="bold" stroke="#1a1a1a" stroke-width="0.2">S840</text>
<text x="397.20" y="220.90" font-size="5.8" fill="#1a1a1a" text-anchor="start" font-family="'Liberation Serif', 'DejaVu Serif', serif" font-weight="bold" stroke="#1a1a1a" stroke-width="0.2">S841</text>
<text x="400.30" y="227.10" font-size="5.8" fill="#ff0000" text-anchor="start" font-family="'Liberation Serif', 'DejaVu Serif', serif" font-weight="bold" textLength="12.55" lengthAdjust="spacingAndGlyphs" stroke="#ff0000" stroke-width="0.2">K866</text>
<text x="473.60" y="226.70" font-size="5.8" fill="#1a1a1a" text-anchor="start" font-family="'Liberation Serif', 'DejaVu Serif', serif" font-weight="bold" stroke="#1a1a1a" stroke-width="0.2">S1111</text>
<text x="474.50" y="220.60" font-size="5.8" fill="#1a1a1a" text-anchor="start" font-family="'Liberation Serif', 'DejaVu Serif', serif" font-weight="bold" stroke="#1a1a1a" stroke-width="0.2">T1117</text>
<text x="475.40" y="213.80" font-size="5.8" fill="#1a1a1a" text-anchor="start" font-family="'Liberation Serif', 'DejaVu Serif', serif" font-weight="bold" stroke="#1a1a1a" stroke-width="0.2">S1122</text>
<text x="476.80" y="206.70" font-size="5.8" fill="#1a1a1a" text-anchor="start" font-family="'Liberation Serif', 'DejaVu Serif', serif" font-weight="bold" stroke="#1a1a1a" stroke-width="0.2">S1124</text>
<text x="479.80" y="200.90" font-size="5.8" fill="#1a1a1a" text-anchor="start" font-family="'Liberation Serif', 'DejaVu Serif', serif" font-weight="bold" stroke="#1a1a1a" stroke-width="0.2">S1129</text>
<text x="483.40" y="194.20" font-size="5.8" fill="#1a1a1a" text-anchor="start" font-family="'Liberation Serif', 'DejaVu Serif', serif" font-weight="bold" stroke="#1a1a1a" stroke-width="0.2">S1136</text>
<text x="494.70" y="186.50" font-size="5.8" fill="#1a1a1a" text-anchor="start" font-family="'Liberation Serif', 'DejaVu Serif', serif" font-weight="bold" stroke="#1a1a1a" stroke-width="0.2">S1167</text>
<text x="501.30" y="180.50" font-size="5.8" fill="#1a1a1a" text-anchor="start" font-family="'Liberation Serif', 'DejaVu Serif', serif" font-weight="bold" stroke="#1a1a1a" stroke-width="0.2">S1185</text>
<text x="502.70" y="173.80" font-size="5.8" fill="#1a1a1a" text-anchor="start" font-family="'Liberation Serif', 'DejaVu Serif', serif" font-weight="bold" stroke="#1a1a1a" stroke-width="0.2">S1189</text>
<text x="504.00" y="168.50" font-size="5.8" fill="#1a1a1a" text-anchor="start" font-family="'Liberation Serif', 'DejaVu Serif', serif" font-weight="bold" stroke="#1a1a1a" stroke-width="0.2">S1191</text>
<text x="505.30" y="161.10" font-size="5.8" fill="#1a1a1a" text-anchor="start" font-family="'Liberation Serif', 'DejaVu Serif', serif" font-weight="bold" stroke="#1a1a1a" stroke-width="0.2">S1194</text>
<text x="519.30" y="161.10" font-size="5.8" fill="#1a1a1a" text-anchor="start" font-family="'Liberation Serif', 'DejaVu Serif', serif" font-weight="bold" stroke="#1a1a1a" stroke-width="0.2">S1205</text>
<text x="230.60" y="63.93" font-size="5.7" fill="#ff0000" text-anchor="start" font-family="'Liberation Serif', 'DejaVu Serif', serif" font-weight="bold" stroke="#ff0000" stroke-width="0.2">,</text>
<text x="258.20" y="64.23" font-size="5.7" fill="#ff0000" text-anchor="start" font-family="'Liberation Serif', 'DejaVu Serif', serif" font-weight="bold" stroke="#ff0000" stroke-width="0.2">,</text>
<text x="440.90" y="8.90" font-size="7.5" fill="#222222" text-anchor="start" font-family="'Liberation Serif', 'DejaVu Serif', serif" font-weight="bold" textLength="57.40" lengthAdjust="spacingAndGlyphs" stroke="#222222" stroke-width="0.2">Phosphorylation</text>
<text x="501.30" y="8.90" font-size="7.5" fill="#222222" text-anchor="start" font-family="'Liberation Serif', 'DejaVu Serif', serif" font-weight="bold" stroke="#222222" stroke-width="0.2">:</text>
<text x="505.30" y="8.90" font-size="7.5" fill="#222222" text-anchor="start" font-family="'Liberation Serif', 'DejaVu Serif', serif" font-weight="bold" textLength="41.30" lengthAdjust="spacingAndGlyphs" stroke="#222222" stroke-width="0.2">ZEB1, ZEB2</text>
<text x="446.90" y="18.50" font-size="7.5" fill="#00b0f0" text-anchor="start" font-family="'Liberation Serif', 'DejaVu Serif', serif" font-weight="bold" textLength="51.40" lengthAdjust="spacingAndGlyphs" stroke="#00b0f0" stroke-width="0.2">Ubiquitination</text>
<text x="501.30" y="18.50" font-size="7.5" fill="#00b0f0" text-anchor="start" font-family="'Liberation Serif', 'DejaVu Serif', serif" font-weight="bold" stroke="#00b0f0" stroke-width="0.2">:</text>
<text x="505.30" y="18.50" font-size="7.5" fill="#00b0f0" text-anchor="start" font-family="'Liberation Serif', 'DejaVu Serif', serif" font-weight="bold" textLength="41.30" lengthAdjust="spacingAndGlyphs" stroke="#00b0f0" stroke-width="0.2">ZEB1, ZEB2</text>
<text x="450.00" y="27.70" font-size="7.5" fill="#ff0000" text-anchor="start" font-family="'Liberation Serif', 'DejaVu Serif', serif" font-weight="bold" textLength="48.30" lengthAdjust="spacingAndGlyphs" stroke="#ff0000" stroke-width="0.2">SUMOylation</text>
<text x="501.30" y="27.70" font-size="7.5" fill="#ff0000" text-anchor="start" font-family="'Liberation Serif', 'DejaVu Serif', serif" font-weight="bold" stroke="#ff0000" stroke-width="0.2">:</text>
<text x="505.30" y="27.70" font-size="7.5" fill="#ff0000" text-anchor="start" font-family="'Liberation Serif', 'DejaVu Serif', serif" font-weight="bold" textLength="41.30" lengthAdjust="spacingAndGlyphs" stroke="#ff0000" stroke-width="0.2">ZEB1, ZEB2</text>
<text x="468.20" y="36.50" font-size="7.5" fill="#6fa036" text-anchor="start" font-family="'Liberation Serif', 'DejaVu Serif', serif" font-weight="bold" textLength="53.80" lengthAdjust="spacingAndGlyphs" stroke="#6fa036" stroke-width="0.2">Di-methylation</text>
<text x="524.60" y="36.50" font-size="7.5" fill="#6fa036" text-anchor="start" font-family="'Liberation Serif', 'DejaVu Serif', serif" font-weight="bold" stroke="#6fa036" stroke-width="0.2">:</text>
<text x="528.40" y="36.50" font-size="7.5" fill="#6fa036" text-anchor="start" font-family="'Liberation Serif', 'DejaVu Serif', serif" font-weight="bold" textLength="18.20" lengthAdjust="spacingAndGlyphs" stroke="#6fa036" stroke-width="0.2">ZEB2</text>
<text x="481.80" y="46.00" font-size="7.5" fill="#ee8a3c" text-anchor="start" font-family="'Liberation Serif', 'DejaVu Serif', serif" font-weight="bold" textLength="40.20" lengthAdjust="spacingAndGlyphs" stroke="#ee8a3c" stroke-width="0.2">Acetylation</text>
<text x="524.60" y="46.00" font-size="7.5" fill="#ee8a3c" text-anchor="start" font-family="'Liberation Serif', 'DejaVu Serif', serif" font-weight="bold" stroke="#ee8a3c" stroke-width="0.2">:</text>
<text x="528.40" y="46.00" font-size="7.5" fill="#ee8a3c" text-anchor="start" font-family="'Liberation Serif', 'DejaVu Serif', serif" font-weight="bold" textLength="18.20" lengthAdjust="spacingAndGlyphs" stroke="#ee8a3c" stroke-width="0.2">ZEB2</text>
</svg>
</body></html>
